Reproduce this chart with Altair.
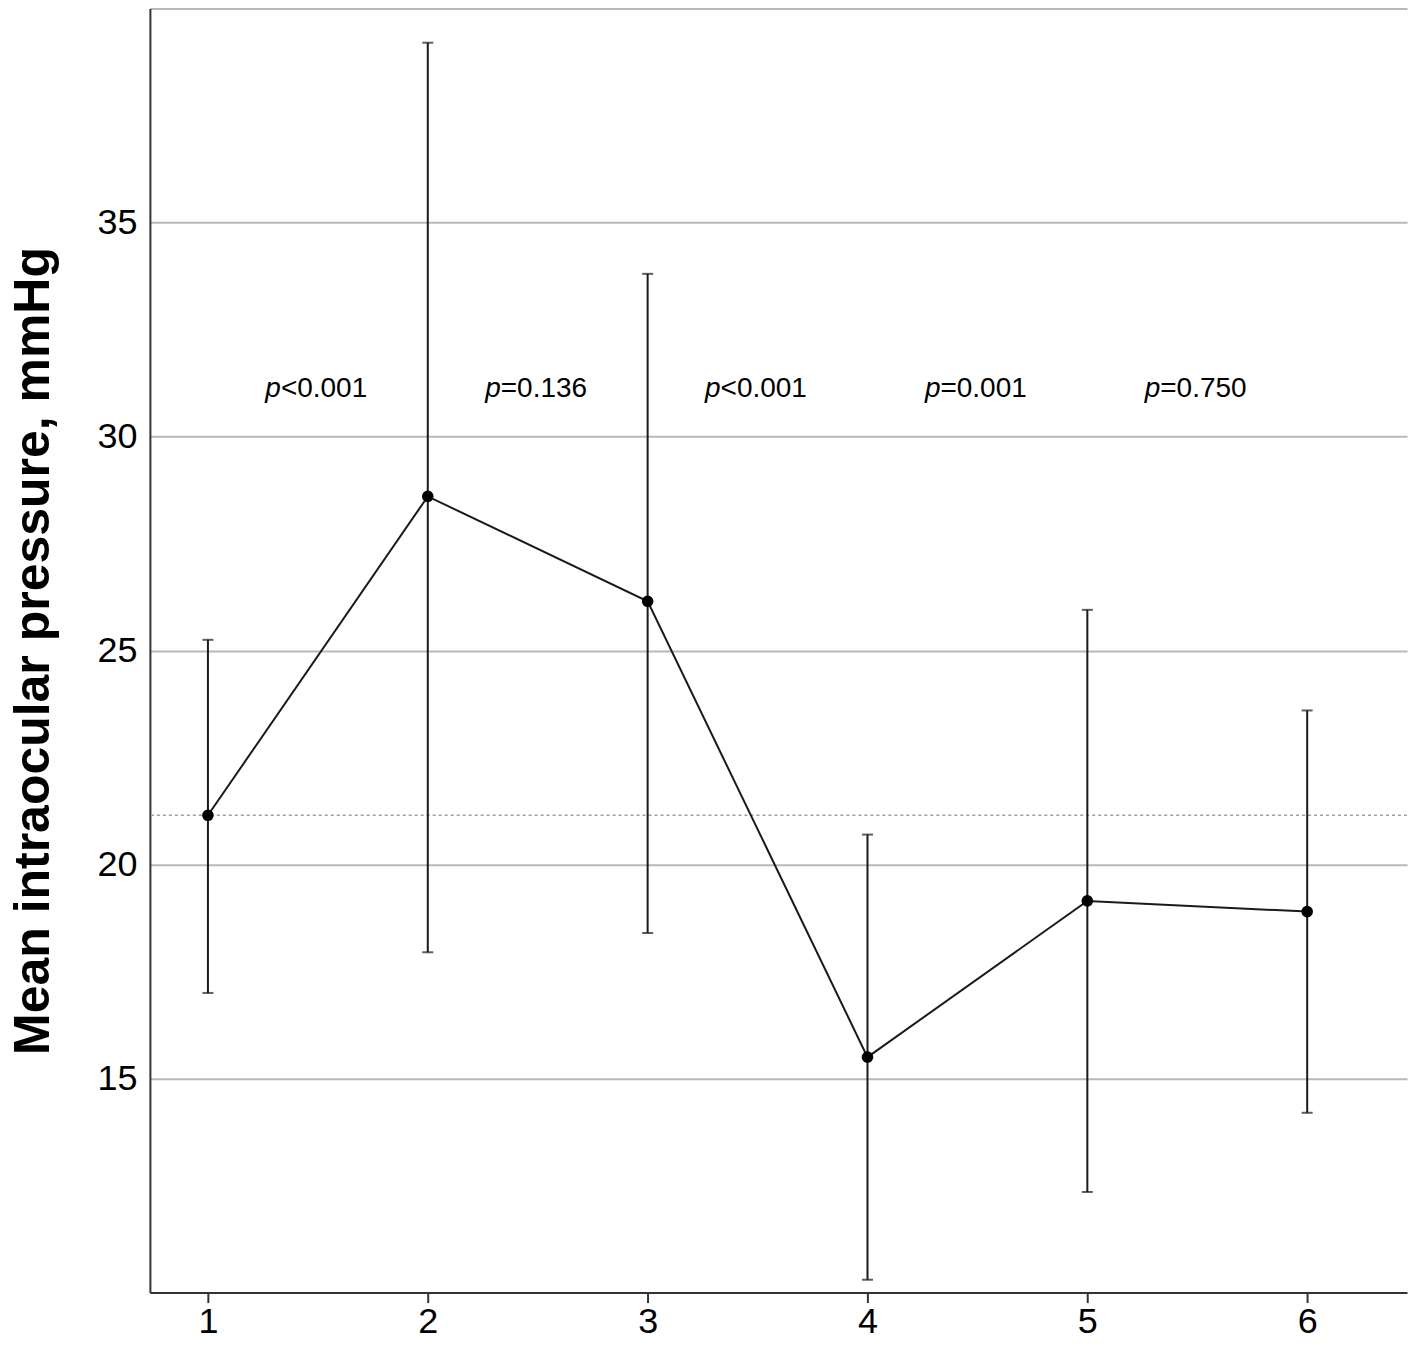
import altair as alt
import pandas as pd

# Data
visits = [1, 2, 3, 4, 5, 6]
mean_iop = [21.15, 28.6, 26.15, 15.5, 19.15, 18.9]
upper = [25.25, 39.2, 33.8, 20.7, 25.95, 23.6]
lower = [17.0, 17.95, 18.4, 10.3, 12.35, 14.2]
baseline_ref = [21.15]
p_prefix = ["p", "p", "p", "p", "p"]
p_values = ["<0.001", "=0.136", "<0.001", "=0.001", "=0.750"]
p_label_y = 31.1

df = pd.DataFrame({"x": visits, "m": mean_iop, "hi": upper, "lo": lower})
ann = pd.DataFrame({
    "x": [(visits[i] + visits[i + 1]) / 2 for i in range(len(visits) - 1)],
    "y": [p_label_y] * len(p_values),
    "pre": p_prefix,
    "txt": p_values,
})
ref = pd.DataFrame({"y": baseline_ref})

FONT = "Liberation Sans"
LINE = "#1a1a1a"

xscale = alt.Scale(domain=[0.736, 6.454], nice=False, zero=False)
yscale = alt.Scale(domain=[10, 40], nice=False, zero=False)

xaxis = alt.Axis(values=visits, title=None, grid=False, labelFontSize=36,
                 labelFont=FONT, labelColor="#000", tickSize=10, tickWidth=2,
                 tickColor="#333", domainColor="#333", domainWidth=2,
                 labelPadding=2, format="d")
yaxis = alt.Axis(values=[15, 20, 25, 30, 35, 40], ticks=False,
                 labelExpr="datum.value == 40 ? '' : datum.label",
                 labelFontSize=36, labelFont=FONT, labelColor="#000",
                 labelPadding=13, domainColor="#333", domainWidth=2,
                 grid=True, gridColor="#b8b8b8", gridWidth=2,
                 title="Mean intraocular pressure, mmHg", titleFont=FONT,
                 titleFontSize=50, titleFontWeight="bold", titleColor="#000",
                 titlePadding=38)

base = alt.Chart(df)

refline = alt.Chart(ref).mark_rule(color="#a0a0a0", strokeWidth=1.5,
                                   strokeDash=[3, 3]).encode(
    y=alt.Y("y:Q", scale=yscale, axis=yaxis))

bars = base.mark_rule(color=LINE, strokeWidth=2).encode(
    x=alt.X("x:Q", scale=xscale, axis=xaxis),
    y=alt.Y("lo:Q", scale=yscale, axis=yaxis),
    y2="hi:Q")

cap_hi = base.mark_tick(orient="horizontal", size=11, thickness=2, color=LINE).encode(
    x=alt.X("x:Q", scale=xscale), y=alt.Y("hi:Q", scale=yscale))
cap_lo = base.mark_tick(orient="horizontal", size=11, thickness=2, color=LINE).encode(
    x=alt.X("x:Q", scale=xscale), y=alt.Y("lo:Q", scale=yscale))

line = base.mark_line(color=LINE, strokeWidth=2).encode(
    x=alt.X("x:Q", scale=xscale), y=alt.Y("m:Q", scale=yscale))
pts = base.mark_point(filled=True, color="#000", size=135, opacity=1).encode(
    x=alt.X("x:Q", scale=xscale), y=alt.Y("m:Q", scale=yscale))

pre = alt.Chart(ann).mark_text(font=FONT, fontSize=28, fontStyle="italic",
                               align="right", baseline="middle", dx=-37,
                               color="#000").encode(
    x=alt.X("x:Q", scale=xscale), y=alt.Y("y:Q", scale=yscale), text="pre:N")
txt = alt.Chart(ann).mark_text(font=FONT, fontSize=28, align="left",
                               baseline="middle", dx=-37, color="#000").encode(
    x=alt.X("x:Q", scale=xscale), y=alt.Y("y:Q", scale=yscale), text="txt:N")

chart = alt.layer(refline, bars, cap_hi, cap_lo, line, pts, pre, txt).properties(
    width=1258, height=1285, padding=0, background="white"
).configure_view(strokeWidth=0)

chart.save("out.html", embed_options={"renderer": "svg", "actions": False})
